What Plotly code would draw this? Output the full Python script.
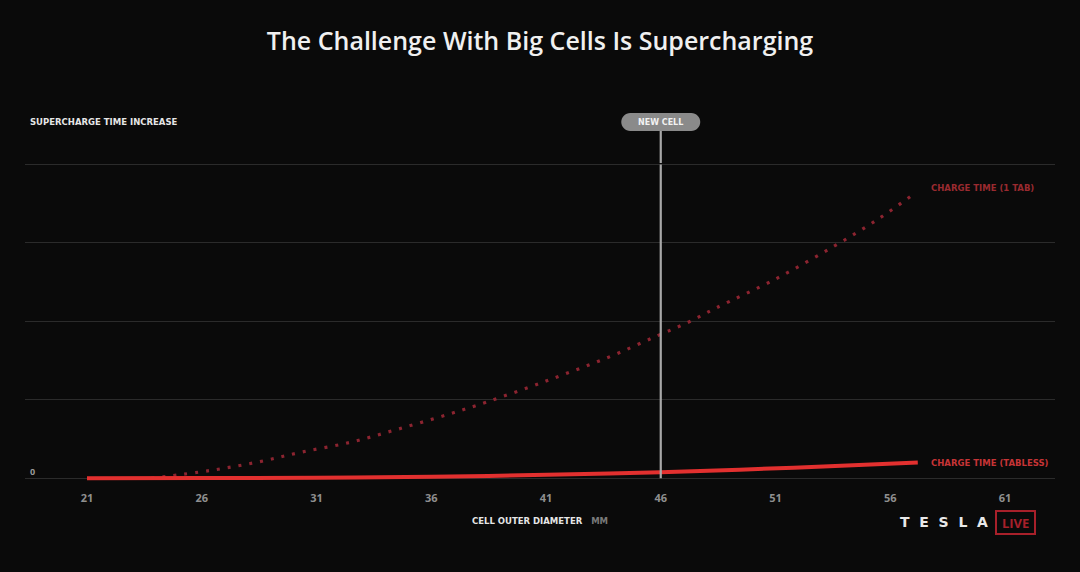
import plotly.graph_objects as go

# ---- data ----
x_ticks = [21, 26, 31, 36, 41, 46, 51, 56, 61]

one_tab_diam = [23.8, 26.4, 28.5, 30.3, 32.5, 34.6, 36.8, 38.4, 41.0, 43.7,
                45.8, 47.2, 48.4, 51.0, 53.5, 55.5, 57.1]
one_tab_time = [0.00, 0.10, 0.21, 0.33, 0.46, 0.63, 0.82, 0.97, 1.24, 1.54,
                1.81, 1.99, 2.17, 2.54, 2.95, 3.31, 3.64]

tabless_diam = [21.0, 26.0, 31.0, 36.0, 41.6, 46.0, 51.8, 57.2]
tabless_time = [0.00, 0.002, 0.006, 0.018, 0.047, 0.076, 0.135, 0.20]

new_cell_diam = 46

BG = "#0a0a0a"
FONT = "Open Sans"
LFONT = "DejaVu Sans"

W, H = 1080, 572
L, R, T, B = 25, 25, 163, 82
PW, PH = W - L - R, H - T - B


def px(xp):
    return (xp - L) / PW


def py(yp):
    return (H - B - yp) / PH


fig = go.Figure()

fig.add_trace(go.Scatter(
    x=one_tab_diam, y=one_tab_time, mode="lines",
    line=dict(color="#8c2430", width=3.2, dash="3px,8px", shape="spline"),
    hoverinfo="skip", showlegend=False))

fig.add_trace(go.Scatter(
    x=tabless_diam, y=tabless_time, mode="lines",
    line=dict(color="#e2302f", width=4, shape="spline"),
    hoverinfo="skip", showlegend=False))

# vertical "new cell" marker
fig.add_shape(type="line", xref="x", yref="y", x0=new_cell_diam, x1=new_cell_diam,
              y0=0, y1=4, line=dict(color="#a8a8a8", width=2.2), layer="above")
fig.add_shape(type="line", xref="x", yref="paper", x0=new_cell_diam, x1=new_cell_diam,
              y0=py(163), y1=py(131), line=dict(color="#a8a8a8", width=2.2), layer="above")

# pill
r = 9
w2 = 39.5
pill = (f"M {-w2 + r},{-r} L {w2 - r},{-r} C {w2 - r + r*0.55},{-r} {w2},{-r*0.55} {w2},0 "
        f"C {w2},{r*0.55} {w2 - r + r*0.55},{r} {w2 - r},{r} L {-w2 + r},{r} "
        f"C {-w2 + r - r*0.55},{r} {-w2},{r*0.55} {-w2},0 "
        f"C {-w2},{-r*0.55} {-w2 + r - r*0.55},{-r} {-w2 + r},{-r} Z")
fig.add_shape(type="path", xref="x", yref="paper", xsizemode="pixel", ysizemode="pixel",
              xanchor=new_cell_diam, yanchor=py(122), path=pill,
              fillcolor="#8a8a8a", line=dict(width=0), layer="above")

annotations = [
    dict(text="NEW CELL", x=new_cell_diam, xref="x", y=py(122), yref="paper",
         showarrow=False, font=dict(family=LFONT, size=8, color="#f2f2f2", weight="bold"),
         xanchor="center", yanchor="middle"),
    dict(text="SUPERCHARGE TIME INCREASE", x=px(28), y=py(122), xref="paper", yref="paper",
         showarrow=False, font=dict(family=LFONT, size=8.5, color="#e6e6e6", weight="bold"),
         xanchor="left", yanchor="middle"),
    dict(text="CHARGE TIME (1 TAB)", x=px(929), y=py(188), xref="paper", yref="paper",
         showarrow=False, font=dict(family=LFONT, size=8.5, color="#9a2a30", weight="bold"),
         xanchor="left", yanchor="middle"),
    dict(text="CHARGE TIME (TABLESS)", x=px(929), y=py(463), xref="paper", yref="paper",
         showarrow=False, font=dict(family=LFONT, size=8.5, color="#c63436", weight="bold"),
         xanchor="left", yanchor="middle"),
    dict(text="T  E  S  L  A", x=px(944), y=py(522), xref="paper", yref="paper",
         showarrow=False, font=dict(family="DejaVu Sans", size=14, color="#e8e8e8", weight="bold"),
         xanchor="center", yanchor="middle"),
    dict(text="&nbsp;LIVE&nbsp;", x=px(1015.5), y=py(522), xref="paper", yref="paper",
         showarrow=False, font=dict(family=FONT, size=13, color="#a8202a", weight="bold"),
         xanchor="center", yanchor="middle", bordercolor="#a8202a", borderwidth=2,
         borderpad=1.5),
]

fig.update_layout(
    width=W, height=H,
    margin=dict(l=L, r=R, t=T, b=B),
    paper_bgcolor=BG, plot_bgcolor=BG,
    title=dict(text="The Challenge With Big Cells Is Supercharging",
               x=0.5, xanchor="center", y=1 - 41 / H, yanchor="middle",
               font=dict(family=FONT, size=25, color="#f0f0f0", weight=600)),
    xaxis=dict(range=[21 - 62 / 22.95, 21 - 62 / 22.95 + PW / 22.95],
               tickvals=x_ticks, ticktext=[str(v) for v in x_ticks],
               showgrid=False, zeroline=False, showline=False, ticks="",
               tickfont=dict(family=FONT, size=11, color="#8f8f8f", weight="bold"),
               title=dict(text="CELL OUTER DIAMETER   <span style='color:#7a7a7a'>MM</span>",
                          font=dict(family=LFONT, size=8.5, color="#e6e6e6", weight="bold"),
                          standoff=14)),
    yaxis=dict(range=[-0.15, 4.02], tickvals=[0, 1, 2, 3, 4],
               ticktext=["0", "", "", "", ""], ticklabelposition="inside top",
               ticklabelstandoff=2,
               showgrid=True, gridcolor="#2b2b2b", gridwidth=1, zeroline=False,
               showline=False, ticks="",
               tickfont=dict(family=FONT, size=9, color="#9a9a9a", weight="bold")),
    annotations=annotations,
)

fig.write_html("out.html")
